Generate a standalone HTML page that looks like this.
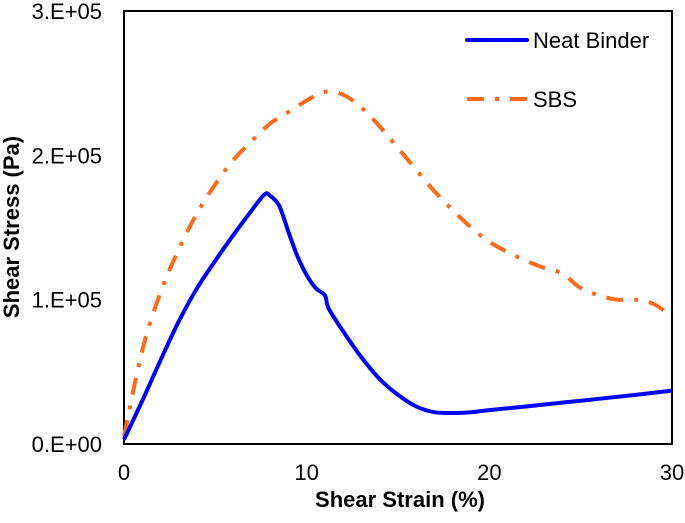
<!DOCTYPE html>
<html><head><meta charset="utf-8"><style>
body{margin:0;background:#fff}
svg text{font-family:"Liberation Sans",Arial,sans-serif}
</style></head><body>
<svg id="chart" width="685" height="518">
<g id="axes"></g><g id="series"></g>
<g>
<line x1="467" y1="40" x2="527" y2="40" stroke="#0000ff" stroke-width="4" stroke-linecap="round"/>
<text x="533" y="48" font-size="22">Neat Binder</text>
<line x1="467" y1="99" x2="527" y2="99" stroke="#ff6a1a" stroke-width="4" stroke-dasharray="17,11,4,11"/>
<text x="533" y="107" font-size="22">SBS</text>
</g>
<text x="400" y="507" font-size="22" font-weight="bold" text-anchor="middle">Shear Strain (%)</text>
<text transform="translate(19,227) rotate(-90)" font-size="22" font-weight="bold" text-anchor="middle">Shear Stress (Pa)</text>
</svg>
<script>
const xTicks=[0,10,20,30];
const yTicks=[0,100000,200000,300000];
const yTickLabels=["0.E+00","1.E+05","2.E+05","3.E+05"];
const neatX=[0,1,2,3,4,5,6,7,7.7,8,8.5,9,9.5,10,10.5,11,11.2,12,13,14,15,16,17,18,19,20,22,25,28,30];
const neatY=[3000,30000,58000,85000,108000,127000,145000,162000,173000,172000,165000,147000,130000,117000,108000,103000,94000,78000,60000,45000,34000,26000,22000,21500,22000,23500,26000,30000,34000,37000];
const sbsX=[0,1,2,3,4,5,6,7,8,9,10,11,12,13,14,15,16,17,18,19,20,21,22,23,24,25,26,27,28,29,30];
const sbsY=[5000,65000,105000,135000,160000,180000,197000,210000,222000,230000,238000,244000,242000,233000,220000,205000,190000,175000,162000,150000,140000,133000,127000,122000,118000,108000,103000,100000,100000,97000,88000];
const X0=124,X1=672,Y0=444,Y1=11;
const sx=v=>X0+v/30*(X1-X0);
const sy=v=>Y0-v/300000*(Y0-Y1);
const NS="http://www.w3.org/2000/svg";
const axes=document.getElementById('axes'),ser=document.getElementById('series');
function mk(tag,attrs,parent){const e=document.createElementNS(NS,tag);for(const k in attrs)e.setAttribute(k,attrs[k]);parent.appendChild(e);return e;}
let a=mk('rect',{x:X0,y:Y1,width:X1-X0,height:Y0-Y1,fill:'none',stroke:'#000','stroke-width':2},axes);


xTicks.forEach(v=>{
 const l=mk('text',{x:sx(v),y:480,'font-size':22,'text-anchor':'middle'},axes);l.textContent=v;
 
 
});
yTicks.forEach((v,i)=>{
 const l=mk('text',{x:102,y:sy(v)+8,'font-size':22,'text-anchor':'end'},axes);l.textContent=yTickLabels[i];
 
 
});
function path(xs,ys){
 const P=xs.map((x,i)=>[sx(x),sy(ys[i])]);
 let d='M'+P[0][0].toFixed(1)+','+P[0][1].toFixed(1);
 for(let i=0;i<P.length-1;i++){
  const p0=P[i-1]||P[i],p1=P[i],p2=P[i+1],p3=P[i+2]||P[i+1];
  const c1=[p1[0]+(p2[0]-p0[0])/6,p1[1]+(p2[1]-p0[1])/6];
  const c2=[p2[0]-(p3[0]-p1[0])/6,p2[1]-(p3[1]-p1[1])/6];
  d+='C'+c1.map(n=>n.toFixed(1))+' '+c2.map(n=>n.toFixed(1))+' '+p2.map(n=>n.toFixed(1));
 }
 return d;
}
let p=mk('path',{d:path(sbsX,sbsY),fill:'none',stroke:'#ff6a1a','stroke-width':4,'stroke-dasharray':'17,11,4,11','stroke-linejoin':'round'},ser);


p=mk('path',{d:path(neatX,neatY),fill:'none',stroke:'#0000ff','stroke-width':4,'stroke-linejoin':'round'},ser);


</script>
</body></html>
